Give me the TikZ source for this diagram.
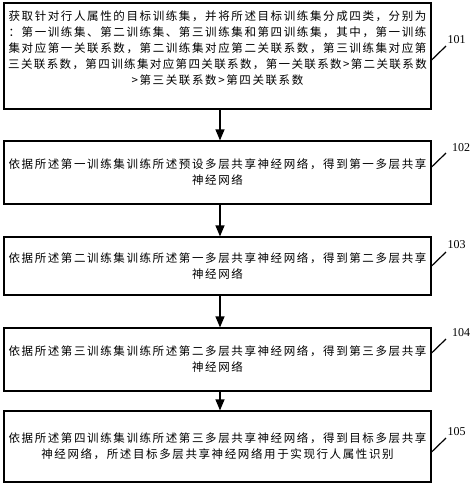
\documentclass[tikz,border=0pt]{standalone}
\usepackage{fontspec}
\setmainfont{Liberation Serif}
\newfontfamily\cjk[LetterSpace=14]{Noto Sans CJK SC}
\newfontfamily\cjknarrow[LetterSpace=12]{Noto Sans CJK SC}
\usetikzlibrary{arrows.meta}
\begin{document}
\begin{tikzpicture}[x=1pt,y=1pt,
  box/.style={draw,line width=1.2pt,minimum width=427pt,inner sep=0pt,align=center,
    font=\cjk\fontsize{11.5}{16}\selectfont},
  arr/.style={line width=1.2pt,-{Triangle[width=9pt,length=11pt]}},
  lead/.style={line width=1.2pt},
  num/.style={font=\fontsize{12}{14}\selectfont,inner sep=0pt}]
\useasboundingbox (0,0) rectangle (474,-488);
\fill[white] (0,0) rectangle (474,-488);
\node[box,minimum height=106pt] (b1) at (217.5,-56) {获取针对行人属性的目标训练集，并将所述目标训练集分成四类，分别为\\
：第一训练集、第二训练集、第三训练集和第四训练集，其中，第一训练\\
集对应第一关联系数，第二训练集对应第二关联系数，第三训练集对应第\\
{\cjknarrow\fontsize{11.5}{16}\selectfont 三关联系数，第四训练集对应第四关联系数，第一关联系数>第二关联系数}\\
>第三关联系数>第四关联系数\\ \mbox{}};
\node[box,minimum height=63pt] (b2) at (217.5,-172.5) {依据所述第一训练集训练所述预设多层共享神经网络，得到第一多层共享\\神经网络};
\node[box,minimum height=58pt] (b3) at (217.5,-266) {依据所述第二训练集训练所述第一多层共享神经网络，得到第二多层共享\\神经网络};
\node[box,minimum height=63pt] (b4) at (217.5,-359.5) {依据所述第三训练集训练所述第二多层共享神经网络，得到第三多层共享\\神经网络};
\node[box,minimum height=71pt] (b5) at (217.5,-446.5) {依据所述第四训练集训练所述第三多层共享神经网络，得到目标多层共享\\神经网络，所述目标多层共享神经网络用于实现行人属性识别};
\draw[arr] ([xshift=2.5pt]b1.south) -- ([xshift=2.5pt]b2.north);
\draw[arr] ([xshift=2.5pt]b2.south) -- ([xshift=2.5pt]b3.north);
\draw[arr] ([xshift=2.5pt]b3.south) -- ([xshift=2.5pt]b4.north);
\draw[arr] ([xshift=2.5pt]b4.south) -- ([xshift=2.5pt]b5.north);
\coordinate (l1) at (446,-46);
\coordinate (l2) at (446,-153);
\coordinate (l3) at (446,-252);
\coordinate (l4) at (446,-339);
\coordinate (l5) at (446,-438);
\draw[lead] ([yshift=-4pt]b1.east) -- (l1);
\draw[lead] ([yshift=5.5pt]b2.east) -- (l2);
\draw[lead] (b3.east) -- (l3);
\draw[lead] ([yshift=6.5pt]b4.east) -- (l4);
\draw[lead] ([yshift=-5.5pt]b5.east) -- (l5);
\node[num] (n1) at (456.5,-40) {101};
\node[num] (n2) at (461,-148) {102};
\node[num] (n3) at (456.5,-245) {103};
\node[num] (n4) at (461,-333) {104};
\node[num] (n5) at (456.5,-432) {105};
\end{tikzpicture}
\end{document}
